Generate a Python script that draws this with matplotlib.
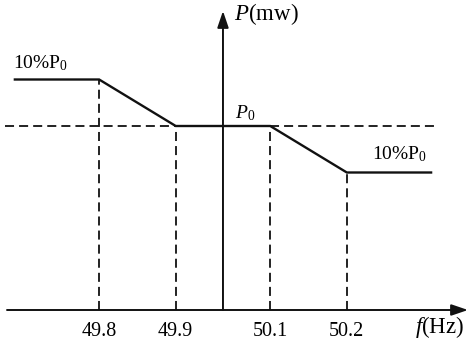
import numpy as np
import matplotlib
matplotlib.use("Agg")
import matplotlib.pyplot as plt

plt.rcParams["font.family"] = ["Liberation Serif", "DejaVu Serif"]
plt.rcParams["mathtext.fontset"] = "custom"
plt.rcParams["mathtext.rm"] = "Liberation Serif"
plt.rcParams["mathtext.it"] = "Liberation Serif:italic"

# Frequency-power droop characteristic (power relative to P0)
freq_curve = [49.69, 49.8, 49.9, 50.1, 50.2, 50.31]
power_curve = [1.1, 1.1, 1.0, 1.0, 0.9, 0.9]

# Key frequencies marked on the axis
tick_freqs = [49.8, 49.9, 50.1, 50.2]
tick_labels = ["49.8", "49.9", "50.1", "50.2"]

# Reference level P0 (dashed) extents
p0_level = 1.0
p0_left = [49.677, 49.9]
p0_right = [50.1, 50.318]

center_freq = 50.0

# Compressed dead-band between 49.9 and 50.1 Hz
k = 95 / 154
f_break = np.array([40.0, 49.9, 50.1, 60.0])
p_break = np.array([40.0, 49.9, 49.9 + 0.2 * k, 60.0 - 0.2 * (1 - k)])


def fwd(f):
    return np.interp(f, f_break, p_break)


def inv(p):
    return np.interp(p, p_break, f_break)


W, H = 474, 344
fig = plt.figure(figsize=(W / 100, H / 100), dpi=100)
axis_y_px = 310
ax = fig.add_axes([0, (H - axis_y_px) / H, 1, axis_y_px / H])
ax.set_xscale("function", functions=(fwd, inv))

px_per_hz = 765.0
x_left = 49.8 - 99 / px_per_hz
x_right = 50.2 + (W - 347) / px_per_hz
ax.set_xlim(x_left, x_right)

px_per_unit = 465.0
y_top = p0_level + 126 / px_per_unit
y_bot = p0_level - (axis_y_px - 126) / px_per_unit
ax.set_ylim(y_bot, y_top)

for s in ax.spines.values():
    s.set_visible(False)
ax.set_yticks([])
ax.set_xticks(tick_freqs)
ax.set_xticklabels(tick_labels, fontsize=14.5)
ax.tick_params(axis="x", length=0, pad=9)
ax.patch.set_alpha(0)

col = "#111111"
dash = (0, (5.0, 2.8))

# Main characteristic
ax.plot(freq_curve, power_curve, color=col, lw=1.7, solid_joinstyle="miter")

# Dashed P0 level
ax.plot(p0_left, [p0_level, p0_level], color=col, lw=1.3, linestyle=dash)
ax.plot(p0_right, [p0_level, p0_level], color=col, lw=1.3, linestyle=dash)

# Dashed drop lines from the break points
for f in tick_freqs:
    pv = np.interp(f, freq_curve, power_curve)
    ax.plot([f, f], [y_bot, pv], color=col, lw=1.3, linestyle=dash)

# Axes with arrow heads
arrow_style = "-|>,head_length=1.0,head_width=0.34"
x_start = 49.8 - (99 - 7) / px_per_hz
x_tip = 50.2 + (468 - 347) / px_per_hz
ax.annotate("", xy=(x_tip, y_bot), xytext=(x_start, y_bot),
            arrowprops=dict(arrowstyle=arrow_style, color=col, lw=1.4,
                            shrinkA=0, shrinkB=0),
            annotation_clip=False)
y_tip = p0_level + (126 - 11) / px_per_unit
ax.annotate("", xy=(center_freq, y_tip), xytext=(center_freq, y_bot),
            arrowprops=dict(arrowstyle=arrow_style, color=col, lw=1.4,
                            shrinkA=0, shrinkB=0),
            annotation_clip=False)

# Labels
ax.annotate(r"$P$(mw)", xy=(center_freq, y_tip), xytext=(11, -3),
            textcoords="offset pixels", ha="left", va="center", fontsize=16.5)
ax.annotate(r"$f$(Hz)", xy=(x_tip, y_bot), xytext=(-4, -17),
            textcoords="offset pixels", ha="right", va="center", fontsize=16.5,
            annotation_clip=False)
ax.annotate(r"10%P$_\mathrm{0}$", xy=(freq_curve[0], power_curve[0]),
            xytext=(-2, 6), textcoords="offset pixels", ha="left",
            va="bottom", fontsize=14)
ax.annotate(r"10%P$_\mathrm{0}$", xy=(freq_curve[-1], power_curve[-1]),
            xytext=(-4, 8), textcoords="offset pixels", ha="right",
            va="bottom", fontsize=14)
ax.annotate(r"$P_\mathrm{0}$", xy=(center_freq, p0_level), xytext=(12, 3),
            textcoords="offset pixels", ha="left", va="bottom", fontsize=14)

fig.savefig("out.png", dpi=100)
